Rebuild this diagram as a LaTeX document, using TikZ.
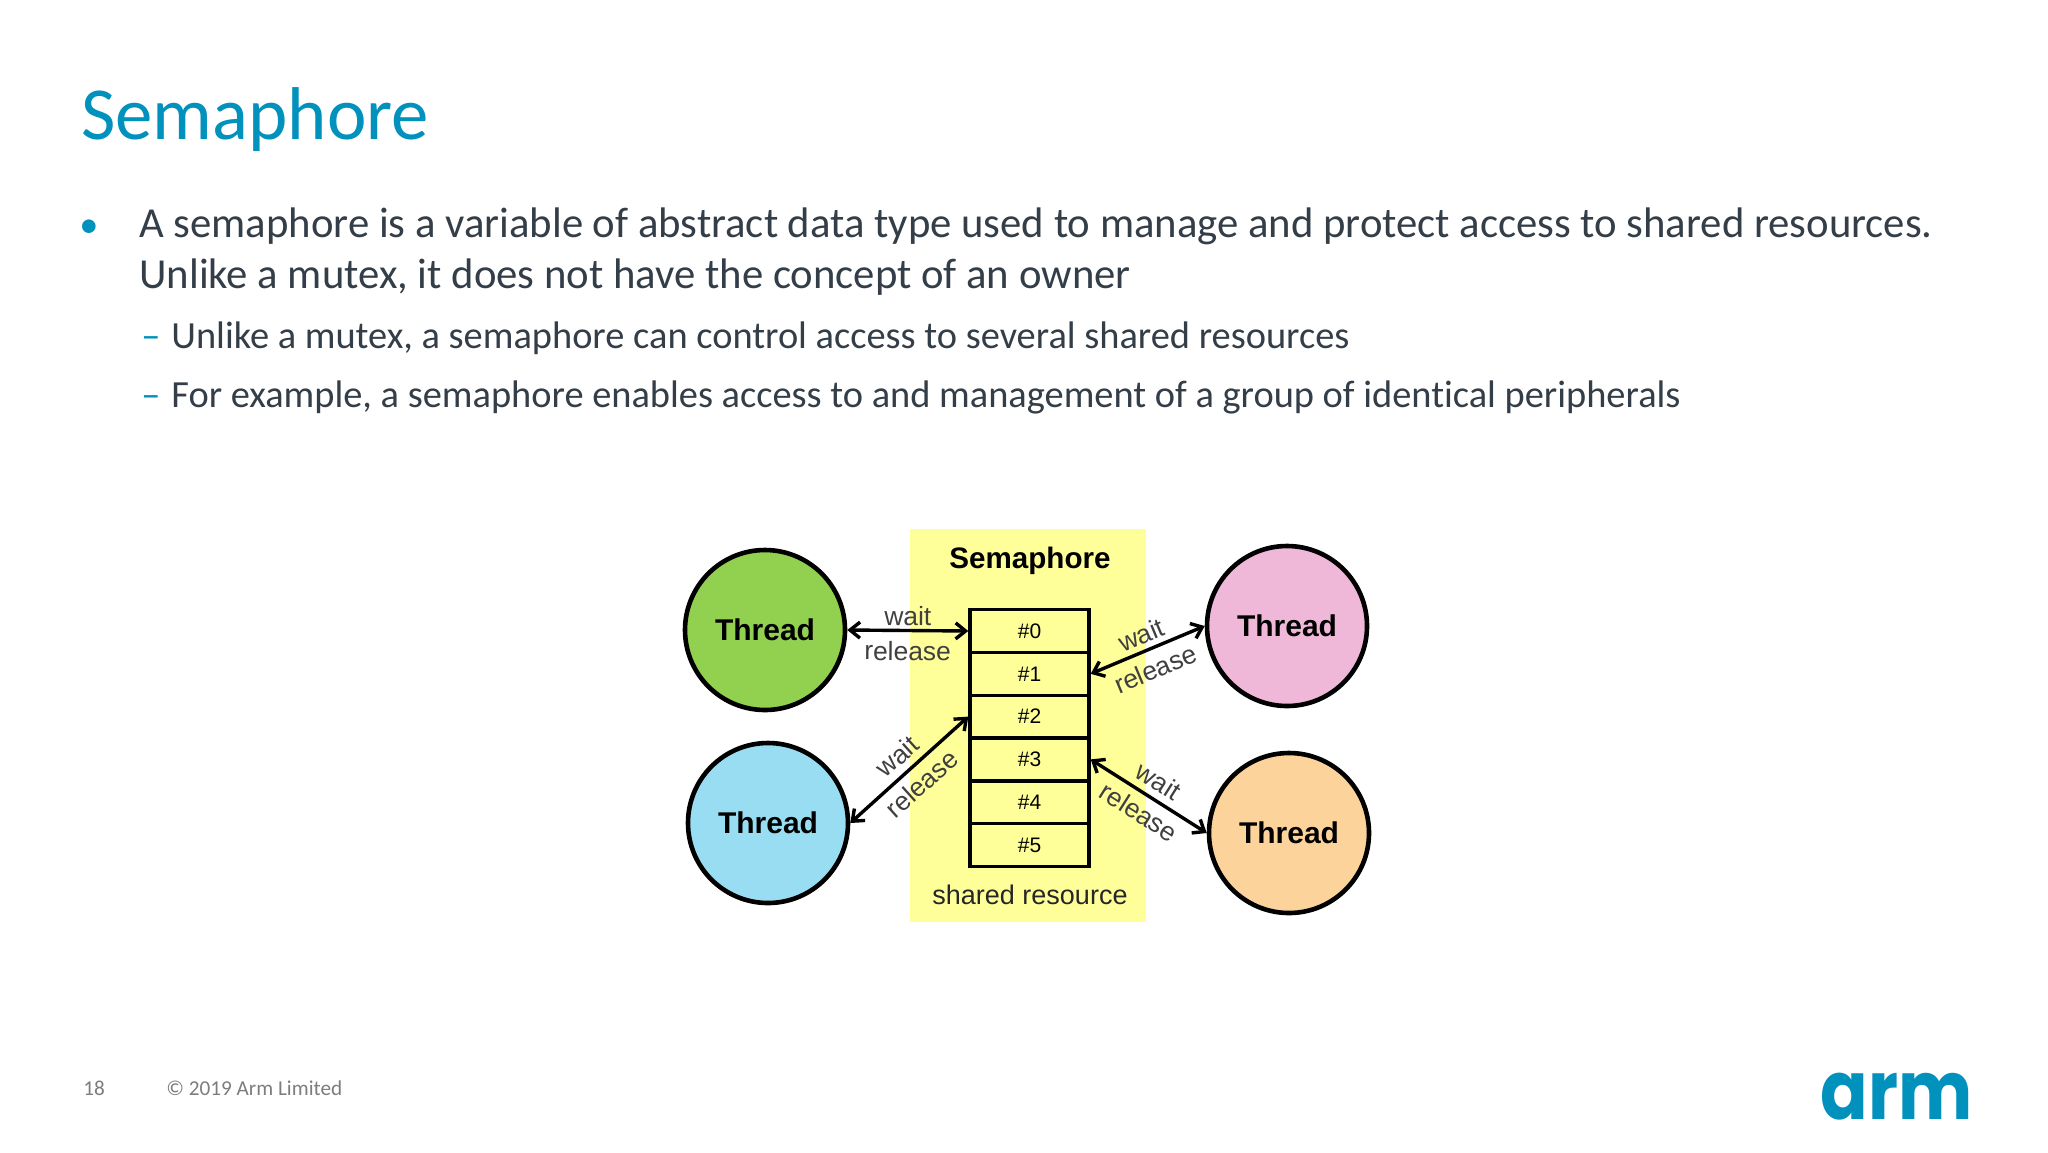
\documentclass[tikz,border=0pt]{standalone}
\usepackage{fontspec}
\usepackage{xcolor}
\usepackage{tikz}
\usetikzlibrary{arrows.meta}
\setmainfont{Carlito}[Ligatures=NoCommon]
\newfontfamily\labelfont{Liberation Sans}
\newfontfamily\logofont{Poppins}[FakeStretch=0.855]

\definecolor{armblue}{HTML}{0091BD}
\definecolor{armtext}{HTML}{333E48}
\definecolor{armgrey}{HTML}{7D7D7D}
\definecolor{semyellow}{HTML}{FFFF99}
\definecolor{threadgreen}{HTML}{92D050}
\definecolor{threadblue}{HTML}{99DDF2}
\definecolor{threadpink}{HTML}{F0B8D8}
\definecolor{threadorange}{HTML}{FBD39B}

\tikzset{
  heading/.style={anchor=base west,inner sep=0pt,text=armblue,font=\fontsize{37.4}{37.4}\selectfont},
  bodytext/.style={anchor=base west,inner sep=0pt,text=armtext,font=\fontsize{21.37}{21.37}\selectfont},
  subtext/.style={anchor=base west,inner sep=0pt,text=armtext,font=\fontsize{19.2}{19.2}\selectfont},
  marker/.style={anchor=base west,inner sep=0pt,text=armblue,font=\fontsize{19.2}{19.2}\selectfont},
  foottext/.style={anchor=base west,inner sep=0pt,text=armgrey,font=\fontsize{10.6}{10.6}\selectfont},
  thread/.style={circle,draw=black,line width=2.3pt,minimum size=80pt,inner sep=0pt,font=\labelfont\bfseries\fontsize{15}{15}\selectfont},
  slot/.style={draw=black,line width=1.7pt,minimum width=59.5pt,minimum height=21.4pt,inner sep=0pt,font=\labelfont\fontsize{10.5}{10.5}\selectfont},
  link/.style={line width=1.7pt,{Straight Barb[length=5pt,width=8pt]}-{Straight Barb[length=5pt,width=8pt]}},
  linklabel/.style={inner sep=1.5pt,sloped,text=black!75,font=\labelfont\fontsize{13.2}{13.2}\selectfont}
}

\begin{document}
\begin{tikzpicture}[x=0.5pt,y=-0.5pt]
  \useasboundingbox (0,0) rectangle (2048,1152);
  \fill[white] (0,0) rectangle (2048,1152);

  % Slide text
  \node[heading] (title) at (81,139) {Semaphore};
  \node[marker] (bulletmark) at (79,237) {•};
  \node[bodytext] (lineA) at (139,237) {A semaphore is a variable of abstract data type used to manage and protect access to shared resources.};
  \node[bodytext] (lineB) at (139,288) {Unlike a mutex, it does not have the concept of an owner};
  \node[marker] (dashA) at (141,348) {–};
  \node[subtext] (lineC) at (171,348) {Unlike a mutex, a semaphore can control access to several shared resources};
  \node[marker] (dashB) at (141,407) {–};
  \node[subtext] (lineD) at (171,407) {For example, a semaphore enables access to and management of a group of identical peripherals};

  % Semaphore background
  \fill[semyellow] (910,529) rectangle (1146,922);
  \node[font=\labelfont\bfseries\fontsize{14.8}{14.8}\selectfont] (semtitle) at (1030,561) {Semaphore};
  \node[font=\labelfont\fontsize{13.5}{13.5}\selectfont,text=black!85] (shared) at (1030,895) {shared resource};

  % Slots
  \foreach \i in {0,...,5}
    \node[slot] (slot\i) at (1029.5,{631+\i*42.8}) {\#\i};

  % Threads
  \node[thread,fill=threadgreen] (threadA) at (765,630) {Thread};
  \node[thread,fill=threadblue] (threadB) at (768,823) {Thread};
  \node[thread,fill=threadpink] (threadC) at (1287,626) {Thread};
  \node[thread,fill=threadorange] (threadD) at (1289,833) {Thread};

  % Arrows with their labels
  \draw[link] (threadA.east) -- (slot0.west)
    node[linklabel,midway,above=0pt] (waitA) {wait}
    node[linklabel,midway,below=3pt] (releaseA) {release};
  \draw[link] (threadB.east) -- (slot2.west)
    node[linklabel,midway,above=2pt] (waitB) {wait}
    node[linklabel,midway,below=2pt] (releaseB) {release};
  \draw[link] (slot1.east) -- (threadC.west)
    node[linklabel,midway,above=1pt] (waitC) {wait}
    node[linklabel,midway,below=3pt] (releaseC) {release};
  \draw[link] (slot3.east) -- (threadD.west)
    node[linklabel,midway,above=2pt] (waitD) {wait}
    node[linklabel,midway,below=2pt] (releaseD) {release};

  % Footer
  \node[foottext] (pagenum) at (83,1095) {18};
  \node[foottext] (copyright) at (166,1095) {© 2019 Arm Limited};
  \node[anchor=base east,inner sep=0pt,text=armblue,font=\logofont\bfseries\fontsize{41}{41}\selectfont] (logo) at (1973,1119) {arm};
\end{tikzpicture}
\end{document}
